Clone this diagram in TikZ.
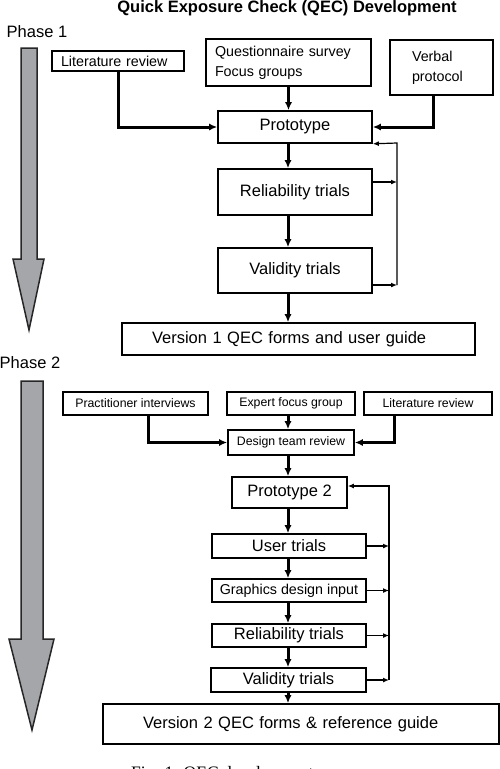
\documentclass[tikz,border=0pt]{standalone}
\usepackage{fontspec}
\setmainfont{Liberation Sans}
\newfontfamily\capfont{Liberation Serif}
\usetikzlibrary{arrows.meta}
\definecolor{phasegray}{RGB}{165,166,170}

\begin{document}
\begin{tikzpicture}[x=1pt, y=-1pt,
  box/.style={draw, line width=1.6pt, inner sep=0pt, align=center},
  big/.style={font=\fontsize{16.5}{19}\selectfont},
  mid/.style={font=\fontsize{14.3}{20}\selectfont},
  small/.style={font=\fontsize{12.3}{14}\selectfont},
  flow/.style={-{Latex[length=8pt,width=7pt]}, line width=3pt},
  feed/.style={-{Latex[length=6pt,width=5pt]}, line width=1.2pt},
  phase/.style={draw=black!85, line width=1.5pt, fill=phasegray}]
\useasboundingbox (0,0) rectangle (500,769);

\node[font=\bfseries\fontsize{16.5}{19}\selectfont] (title) at (287,8) {Quick Exposure Check (QEC) Development};

% phase 1
\node[big, inner sep=0pt] (phaseone) at (37,32) {Phase 1};
\draw[phase] (21,48) -- (37,48) -- (37,259) -- (44,259) -- (29,330) -- (13,259) -- (21,259) -- cycle;

\node[box, mid, text width=114pt, align=left, inner xsep=9pt, minimum height=20pt] (litrev1) at (118,61) {Literature review};
\node[box, mid, text width=147pt, align=left, inner xsep=9pt, minimum height=47pt] (survey) at (288.5,62.5) {Questionnaire survey\\Focus groups};
\node[box, mid, text width=59pt, align=left, inner xsep=22pt, minimum height=55pt] (verbal) at (441.5,67.5) {Verbal\\protocol};
\node[box, big, minimum width=154pt, minimum height=32pt] (proto1) at (295,127) {Prototype};
\node[box, big, minimum width=154pt, minimum height=46pt] (relia1) at (295,192) {Reliability trials};
\node[box, big, minimum width=154pt, minimum height=45pt] (valid1) at (295,270.5) {Validity trials};
\node[box, big, text width=293pt, align=left, inner xsep=30pt, minimum height=32pt] (ver1) at (298.5,339) {Version 1 QEC forms and user guide};

\coordinate (spine1) at (288,0);
\draw[flow] (litrev1.south) |- (proto1.west);
\draw[flow] (survey.south) -- (proto1.north -| survey.south);
\draw[flow] ([xshift=-8.5pt]verbal.south) |- (proto1.east);
\draw[flow] (proto1.south -| spine1) -- (relia1.north -| spine1);
\draw[flow] (relia1.south -| spine1) -- (valid1.north -| spine1);
\draw[flow] (valid1.south -| spine1) -- (ver1.north -| spine1);

% feedback loop 1
\coordinate (loop1) at (397,143);
\draw[feed] ([yshift=-14.5pt]valid1.east -| loop1) -- (loop1) -- (proto1.south east);
\draw[feed] ([yshift=10pt]relia1.east) -- ([yshift=10pt]relia1.east -| loop1);
\draw[feed] ([yshift=-14.5pt]valid1.east) -- ([yshift=-14.5pt]valid1.east -| loop1);

% phase 2
\node[big, inner sep=0pt] (phasetwo) at (30,363) {Phase 2};
\draw[phase] (21,381) -- (43,381) -- (43,639) -- (54,639) -- (32,730) -- (9,639) -- (21,639) -- cycle;

\node[box, small, minimum width=145pt, minimum height=23pt] (prac) at (135.5,403.5) {Practitioner interviews};
\node[box, small, minimum width=128pt, minimum height=23pt] (expert) at (291,403.5) {Expert focus group};
\node[box, small, minimum width=128pt, minimum height=23pt] (litrev2) at (428,403.5) {Literature review};
\node[box, small, minimum width=126pt, minimum height=25pt] (design) at (291,442.5) {Design team review};
\node[box, big, minimum width=115pt, minimum height=31pt] (proto2) at (289.5,492.5) {Prototype 2};
\node[box, big, minimum width=154pt, minimum height=24pt] (user) at (289,546) {User trials};
\node[box, mid, minimum width=154pt, minimum height=23pt] (graph) at (289,590.5) {Graphics design input};
\node[box, big, minimum width=154pt, minimum height=23pt] (relia2) at (289,635.5) {Reliability trials};
\node[box, big, minimum width=155pt, minimum height=24pt] (valid2) at (288.5,680) {Validity trials};
\node[box, big, text width=316pt, align=left, inner xsep=40pt, minimum height=40pt] (ver2) at (301,724) {Version 2 QEC forms \& reference guide};

\coordinate (spine2) at (288,0);
\draw[flow] ([xshift=12.5pt]prac.south) |- (design.west);
\draw[flow] (expert.south -| spine2) -- (design.north -| spine2);
\draw[flow] ([xshift=-34pt]litrev2.south) |- (design.east);
\draw[flow] (design.south -| spine2) -- (proto2.north -| spine2);
\draw[flow] (proto2.south -| spine2) -- (user.north -| spine2);
\draw[flow] (user.south -| spine2) -- (graph.north -| spine2);
\draw[flow] (graph.south -| spine2) -- (relia2.north -| spine2);
\draw[flow] (relia2.south -| spine2) -- (valid2.north -| spine2);
\draw[flow] (valid2.south -| spine2) -- (ver2.north -| spine2);

% feedback loop 2
\coordinate (loop2) at (389,486);
\draw[feed] (valid2.east -| loop2) -- (loop2) -- ([yshift=6.5pt]proto2.east);
\draw[feed] (user.east) -- (user.east -| loop2);
\draw[feed] (graph.east) -- (graph.east -| loop2);
\draw[feed] (relia2.east) -- (relia2.east -| loop2);
\draw[feed] (valid2.east) -- (valid2.east -| loop2);

\node[font=\capfont\fontsize{17.5}{20}\selectfont, anchor=base west, inner sep=0pt] (caption) at (131,778) {Fig. 1. QEC development};
\end{tikzpicture}
\end{document}
